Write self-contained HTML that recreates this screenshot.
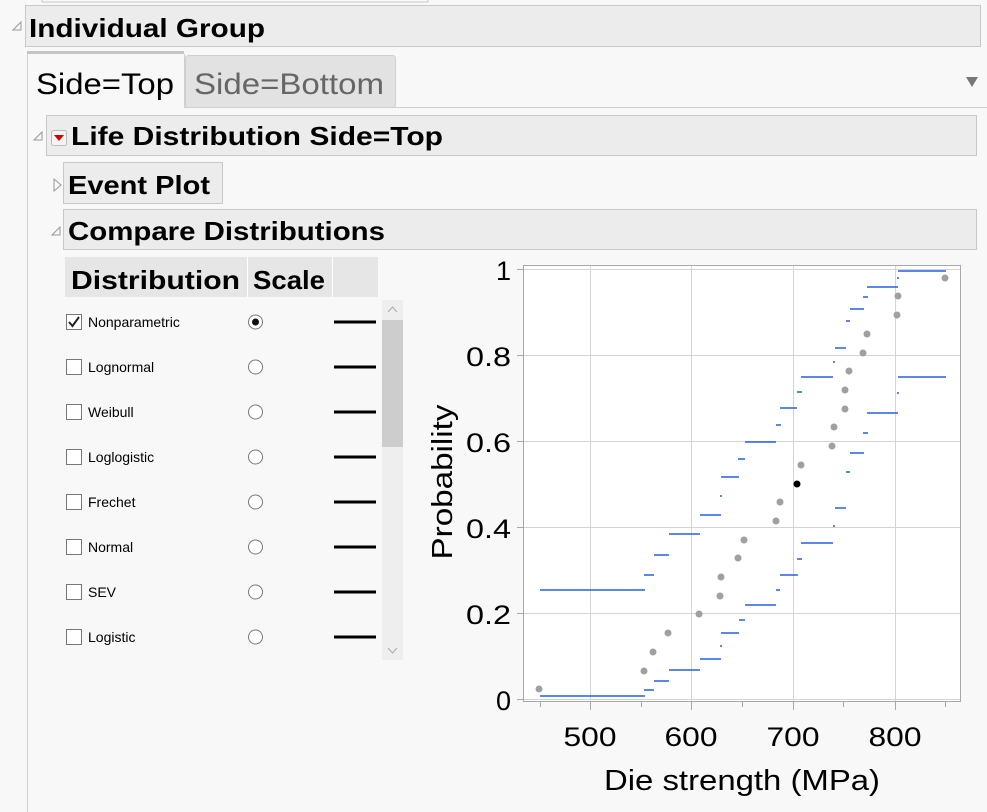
<!DOCTYPE html>
<html><head><style>body{margin:0;background:#f8f8f8}svg{display:block}</style></head><body>
<svg width="987" height="812" viewBox="0 0 987 812" xmlns="http://www.w3.org/2000/svg" font-family="Liberation Sans, sans-serif">
<rect width="987" height="812" fill="#f8f8f8"/>
<rect x="42" y="-2" width="386" height="4" fill="#f8f8f8" stroke="#c8c8c8"/>
<rect x="25.5" y="5.5" width="955" height="41" fill="#ececec" stroke="#c8c8c8"/>
<path d="M13 30 L21 22 L21 30 Z" fill="none" stroke="#999"/>
<text x="29" y="37" font-size="26" font-weight="bold" textLength="236" lengthAdjust="spacingAndGlyphs">Individual Group</text>
<line x1="27.5" y1="54" x2="27.5" y2="812" stroke="#d0d0d0"/>
<rect x="27" y="51" width="157" height="3" fill="#c4c4c4"/>
<rect x="185.5" y="55.5" width="210" height="52" rx="3" fill="#e2e2e2" stroke="#cfcfcf"/>
<line x1="184" y1="107.5" x2="987" y2="107.5" stroke="#cfcfcf"/>
<line x1="184.5" y1="54" x2="184.5" y2="107" stroke="#cfcfcf"/>
<text x="36" y="94" font-size="30" textLength="138" lengthAdjust="spacingAndGlyphs">Side=Top</text>
<text x="194" y="94" font-size="30" fill="#666" textLength="190" lengthAdjust="spacingAndGlyphs">Side=Bottom</text>
<path d="M966 77 L978 77 L972 87 Z" fill="#777"/>
<rect x="46.5" y="115.5" width="930" height="40" fill="#ececec" stroke="#c8c8c8"/>
<path d="M34 140 L42 132 L42 140 Z" fill="none" stroke="#999"/>
<rect x="51.5" y="130.5" width="15" height="15" rx="2" fill="#f4f4f4" stroke="#bbb"/>
<path d="M54 135 L64 135 L59 141 Z" fill="#d00000"/>
<text x="71" y="145" font-size="26" font-weight="bold" textLength="372" lengthAdjust="spacingAndGlyphs">Life Distribution Side=Top</text>
<rect x="63.5" y="162.5" width="159" height="41" fill="#ececec" stroke="#c8c8c8"/>
<path d="M54 179 L61 185 L54 191 Z" fill="none" stroke="#999"/>
<text x="68" y="194" font-size="26" font-weight="bold" textLength="142" lengthAdjust="spacingAndGlyphs">Event Plot</text>
<rect x="63.5" y="209.5" width="913" height="40" fill="#ececec" stroke="#c8c8c8"/>
<path d="M52 235 L60 227 L60 235 Z" fill="none" stroke="#999"/>
<text x="68" y="240" font-size="26" font-weight="bold" textLength="317" lengthAdjust="spacingAndGlyphs">Compare Distributions</text>
<rect x="65" y="257" width="313" height="40" fill="#e6e6e6"/>
<line x1="247.5" y1="257" x2="247.5" y2="297" stroke="#fff"/>
<line x1="332.5" y1="257" x2="332.5" y2="297" stroke="#fff"/>
<text x="71" y="289" font-size="26" font-weight="bold" textLength="169" lengthAdjust="spacingAndGlyphs">Distribution</text>
<text x="253" y="289" font-size="26" font-weight="bold" textLength="72" lengthAdjust="spacingAndGlyphs">Scale</text>
<g font-size="14">
<g transform="translate(0,322)"><rect x="66.5" y="-7.5" width="15" height="15" fill="#fff" stroke="#777"/><path d="M69 0 L72.5 4 L79 -5" fill="none" stroke="#222" stroke-width="2"/><text x="88" y="5">Nonparametric</text><circle cx="255.5" cy="0" r="7" fill="#fff" stroke="#777"/><circle cx="255.5" cy="0" r="3.5" fill="#111"/><rect x="334" y="-1.5" width="42" height="3" fill="#000"/></g>
<g transform="translate(0,367)"><rect x="66.5" y="-7.5" width="15" height="15" fill="#fff" stroke="#777"/><text x="88" y="5">Lognormal</text><circle cx="255.5" cy="0" r="7" fill="#fff" stroke="#777"/><rect x="334" y="-1.5" width="42" height="3" fill="#000"/></g>
<g transform="translate(0,412)"><rect x="66.5" y="-7.5" width="15" height="15" fill="#fff" stroke="#777"/><text x="88" y="5">Weibull</text><circle cx="255.5" cy="0" r="7" fill="#fff" stroke="#777"/><rect x="334" y="-1.5" width="42" height="3" fill="#000"/></g>
<g transform="translate(0,457)"><rect x="66.5" y="-7.5" width="15" height="15" fill="#fff" stroke="#777"/><text x="88" y="5">Loglogistic</text><circle cx="255.5" cy="0" r="7" fill="#fff" stroke="#777"/><rect x="334" y="-1.5" width="42" height="3" fill="#000"/></g>
<g transform="translate(0,502)"><rect x="66.5" y="-7.5" width="15" height="15" fill="#fff" stroke="#777"/><text x="88" y="5">Frechet</text><circle cx="255.5" cy="0" r="7" fill="#fff" stroke="#777"/><rect x="334" y="-1.5" width="42" height="3" fill="#000"/></g>
<g transform="translate(0,547)"><rect x="66.5" y="-7.5" width="15" height="15" fill="#fff" stroke="#777"/><text x="88" y="5">Normal</text><circle cx="255.5" cy="0" r="7" fill="#fff" stroke="#777"/><rect x="334" y="-1.5" width="42" height="3" fill="#000"/></g>
<g transform="translate(0,592)"><rect x="66.5" y="-7.5" width="15" height="15" fill="#fff" stroke="#777"/><text x="88" y="5">SEV</text><circle cx="255.5" cy="0" r="7" fill="#fff" stroke="#777"/><rect x="334" y="-1.5" width="42" height="3" fill="#000"/></g>
<g transform="translate(0,637)"><rect x="66.5" y="-7.5" width="15" height="15" fill="#fff" stroke="#777"/><text x="88" y="5">Logistic</text><circle cx="255.5" cy="0" r="7" fill="#fff" stroke="#777"/><rect x="334" y="-1.5" width="42" height="3" fill="#000"/></g>
</g>
<rect x="382" y="300" width="21" height="360" fill="#eeeeee"/>
<rect x="382" y="320" width="21" height="127" fill="#cdcdcd"/>
<path d="M388 312 L392.5 307 L397 312" fill="none" stroke="#aaa"/>
<path d="M388 648 L392.5 653 L397 648" fill="none" stroke="#aaa"/>
<rect x="523.5" y="265.5" width="437" height="436" fill="#fff" stroke="#a8a8a8"/>
<g stroke="#d4d4d4" stroke-width="1">
<line x1="590.5" y1="266" x2="590.5" y2="701"/><line x1="691.5" y1="266" x2="691.5" y2="701"/><line x1="793.5" y1="266" x2="793.5" y2="701"/><line x1="895.5" y1="266" x2="895.5" y2="701"/>
<line x1="524" y1="269.5" x2="960" y2="269.5"/><line x1="524" y1="355.5" x2="960" y2="355.5"/><line x1="524" y1="441.5" x2="960" y2="441.5"/><line x1="524" y1="527.5" x2="960" y2="527.5"/><line x1="524" y1="613.5" x2="960" y2="613.5"/><line x1="524" y1="699.5" x2="960" y2="699.5"/>
</g>
<g stroke="#a8a8a8">
<line x1="517" y1="269.5" x2="523" y2="269.5"/><line x1="517" y1="355.5" x2="523" y2="355.5"/><line x1="517" y1="441.5" x2="523" y2="441.5"/><line x1="517" y1="527.5" x2="523" y2="527.5"/><line x1="517" y1="613.5" x2="523" y2="613.5"/><line x1="517" y1="699.5" x2="523" y2="699.5"/>
<line x1="540.5" y1="702" x2="540.5" y2="707"/><line x1="590.5" y1="702" x2="590.5" y2="710"/><line x1="641.5" y1="702" x2="641.5" y2="707"/><line x1="691.5" y1="702" x2="691.5" y2="710"/><line x1="742.5" y1="702" x2="742.5" y2="707"/><line x1="793.5" y1="702" x2="793.5" y2="710"/><line x1="843.5" y1="702" x2="843.5" y2="707"/><line x1="895.5" y1="702" x2="895.5" y2="710"/><line x1="945.5" y1="702" x2="945.5" y2="707"/>
</g>
<g font-size="27" text-anchor="end">
<text x="511" y="280">1</text><text x="511" y="366" textLength="45" lengthAdjust="spacingAndGlyphs">0.8</text><text x="511" y="452" textLength="45" lengthAdjust="spacingAndGlyphs">0.6</text><text x="511" y="538" textLength="45" lengthAdjust="spacingAndGlyphs">0.4</text><text x="511" y="624" textLength="45" lengthAdjust="spacingAndGlyphs">0.2</text><text x="511" y="710">0</text>
</g>
<g font-size="27" text-anchor="middle">
<text x="590" y="746" textLength="53" lengthAdjust="spacingAndGlyphs">500</text><text x="691" y="746" textLength="53" lengthAdjust="spacingAndGlyphs">600</text><text x="793" y="746" textLength="53" lengthAdjust="spacingAndGlyphs">700</text><text x="895" y="746" textLength="53" lengthAdjust="spacingAndGlyphs">800</text>
</g>
<text x="742" y="790" font-size="29" text-anchor="middle" textLength="276" lengthAdjust="spacingAndGlyphs">Die strength (MPa)</text>
<text transform="translate(452,482) rotate(-90)" font-size="29" text-anchor="middle" textLength="155" lengthAdjust="spacingAndGlyphs">Probability</text>
<g stroke="#2060e0" stroke-width="1.5">
<line x1="898" y1="271" x2="946" y2="271"/><line x1="897" y1="278" x2="899" y2="278"/><line x1="867" y1="287" x2="898" y2="287"/><line x1="863" y1="297" x2="868" y2="297"/><line x1="850" y1="309" x2="864" y2="309"/><line x1="846" y1="321" x2="850" y2="321"/><line x1="835" y1="348" x2="846" y2="348"/><line x1="833" y1="362" x2="835" y2="362"/><line x1="801" y1="377" x2="833" y2="377"/><line x1="898" y1="377" x2="946" y2="377"/><line x1="797" y1="392" x2="802" y2="392"/><line x1="897" y1="393" x2="899" y2="393"/><line x1="780" y1="408" x2="797" y2="408"/><line x1="867" y1="413" x2="898" y2="413"/><line x1="776" y1="425" x2="781" y2="425"/><line x1="863" y1="433" x2="868" y2="433"/><line x1="745" y1="442" x2="776" y2="442"/><line x1="850" y1="453" x2="864" y2="453"/><line x1="738" y1="459" x2="745" y2="459"/><line x1="846" y1="472" x2="850" y2="472"/><line x1="721" y1="477" x2="739" y2="477"/>
<line x1="720" y1="496" x2="722" y2="496"/><line x1="835" y1="508" x2="846" y2="508"/><line x1="700" y1="515" x2="721" y2="515"/><line x1="833" y1="526" x2="835" y2="526"/><line x1="669" y1="534" x2="700" y2="534"/><line x1="801" y1="543" x2="833" y2="543"/><line x1="654" y1="555" x2="669" y2="555"/><line x1="797" y1="559" x2="802" y2="559"/><line x1="644" y1="575" x2="654" y2="575"/><line x1="780" y1="575" x2="798" y2="575"/><line x1="540" y1="590" x2="645" y2="590"/><line x1="776" y1="590" x2="780" y2="590"/><line x1="745" y1="605" x2="776" y2="605"/><line x1="739" y1="620" x2="745" y2="620"/><line x1="721" y1="633" x2="739" y2="633"/><line x1="720" y1="646" x2="722" y2="646"/><line x1="700" y1="659" x2="721" y2="659"/><line x1="669" y1="670" x2="700" y2="670"/><line x1="654" y1="681" x2="669" y2="681"/><line x1="644" y1="690" x2="654" y2="690"/><line x1="540" y1="696" x2="645" y2="696"/>
</g>
<g fill="#a0a0a0">
<circle cx="945" cy="278" r="3.5"/><circle cx="898" cy="296" r="3.5"/><circle cx="897" cy="315" r="3.5"/><circle cx="867" cy="334" r="3.5"/><circle cx="863" cy="353" r="3.5"/><circle cx="849" cy="371" r="3.5"/><circle cx="845" cy="390" r="3.5"/><circle cx="845" cy="409" r="3.5"/><circle cx="834" cy="427" r="3.5"/><circle cx="832" cy="446" r="3.5"/><circle cx="801" cy="465" r="3.5"/>
<circle cx="780" cy="502" r="3.5"/><circle cx="776" cy="521" r="3.5"/><circle cx="744" cy="540" r="3.5"/><circle cx="738" cy="558" r="3.5"/><circle cx="721" cy="577" r="3.5"/><circle cx="720" cy="596" r="3.5"/><circle cx="699" cy="614" r="3.5"/><circle cx="668" cy="633" r="3.5"/><circle cx="653" cy="652" r="3.5"/><circle cx="644" cy="671" r="3.5"/><circle cx="539" cy="689" r="3.5"/>
</g>
<circle cx="797" cy="484" r="3.5" fill="#000"/>
</svg>
</body></html>
